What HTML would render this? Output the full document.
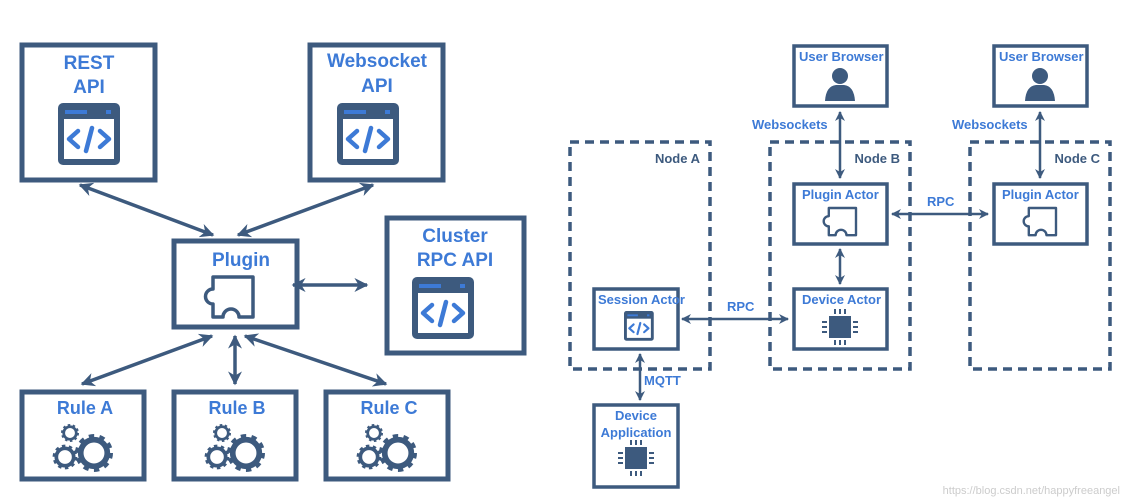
<!DOCTYPE html>
<html><head><meta charset="utf-8"><style>
body{margin:0;background:#fff}
svg{display:block}
.t{font-family:"Liberation Sans",sans-serif;font-weight:bold;fill:#3d7ad6}
.n{font-family:"Liberation Sans",sans-serif;font-weight:bold;fill:#3d5a7e}
</style></head><body>
<svg width="1126" height="501" viewBox="0 0 1126 501" xmlns="http://www.w3.org/2000/svg">
<defs>
<marker id="a" viewBox="0 0 10 10" refX="9" refY="5" markerWidth="4" markerHeight="4" orient="auto-start-reverse"><path d="M0,0 L10,5 L0,10 L3,5 Z" fill="#3d5a7e"/></marker>
<g id="code">
<rect x="0" y="0" width="62" height="62" rx="5" fill="#3d5a7e"/>
<rect x="6" y="16" width="50" height="40" fill="#fff"/>
<rect x="7" y="7" width="22" height="4" fill="#3d7ad6"/>
<rect x="48" y="7" width="5" height="4" fill="#3d7ad6"/>
<g fill="none" stroke="#3d7ad6" stroke-width="4.5" stroke-linecap="round" stroke-linejoin="round">
<path d="M20,28 L11,36 L20,44"/><path d="M42,28 L51,36 L42,44"/><path d="M34,25 L28,48"/></g>
</g>
<g id="puz"><path d="M10,0 H50 V40 H36 A8,8 0 0 0 20,40 H10 V27 A7.5,7.5 0 0 1 10,12 Z" fill="none" stroke="#3d5a7e" stroke-width="3.5" stroke-linejoin="round"/></g>
<g id="gear">
<circle r="14" fill="none" stroke="#3d5a7e" stroke-width="6"/>
<circle r="17.5" fill="none" stroke="#3d5a7e" stroke-width="5" stroke-dasharray="5.5 5.5"/>
</g>
<g id="gears">
<use href="#gear" transform="translate(32,23) scale(0.95)"/>
<use href="#gear" transform="translate(3,27) scale(0.62)"/>
<use href="#gear" transform="translate(8,3) scale(0.45)"/>
</g>
<g id="chip" fill="#3d5a7e">
<rect x="0" y="0" width="22" height="22"/>
<rect x="5" y="-7" width="2" height="5"/><rect x="10" y="-7" width="2" height="5"/><rect x="15" y="-7" width="2" height="5"/>
<rect x="5" y="24" width="2" height="5"/><rect x="10" y="24" width="2" height="5"/><rect x="15" y="24" width="2" height="5"/>
<rect x="-7" y="5" width="5" height="2"/><rect x="-7" y="10" width="5" height="2"/><rect x="-7" y="15" width="5" height="2"/>
<rect x="24" y="5" width="5" height="2"/><rect x="24" y="10" width="5" height="2"/><rect x="24" y="15" width="5" height="2"/>
</g>
<g id="user" fill="#3d5a7e"><circle cx="0" cy="0" r="8"/><path d="M-15,25 Q-14,10 -4,9 L4,9 Q14,10 15,25 Z"/></g>
</defs>

<g fill="none" stroke="#3d5a7e" stroke-width="5">
<rect x="22" y="45" width="133" height="135"/>
<rect x="310" y="45" width="133" height="135"/>
<rect x="174" y="241" width="123" height="86"/>
<rect x="387" y="218" width="137" height="135"/>
<rect x="22" y="392" width="122" height="87"/>
<rect x="174" y="392" width="122" height="87"/>
<rect x="326" y="392" width="122" height="87"/>
</g>
<text class="t" x="89" y="69" font-size="19" text-anchor="middle">REST</text>
<text class="t" x="89" y="93" font-size="19" text-anchor="middle">API</text>
<text class="t" x="377" y="67" font-size="19" text-anchor="middle">Websocket</text>
<text class="t" x="377" y="92" font-size="19" text-anchor="middle">API</text>
<text class="t" x="241" y="266" font-size="19" text-anchor="middle">Plugin</text>
<text class="t" x="455" y="242" font-size="19" text-anchor="middle">Cluster</text>
<text class="t" x="455" y="266" font-size="19" text-anchor="middle">RPC API</text>
<text class="t" x="85" y="414" font-size="18" text-anchor="middle">Rule A</text>
<text class="t" x="237" y="414" font-size="18" text-anchor="middle">Rule B</text>
<text class="t" x="389" y="414" font-size="18" text-anchor="middle">Rule C</text>
<use href="#code" x="58" y="103"/>
<use href="#code" x="337" y="103"/>
<use href="#code" x="412" y="277"/>
<use href="#puz" x="203" y="277"/>
<use href="#gears" transform="translate(62,430)"/>
<use href="#gears" transform="translate(214,430)"/>
<use href="#gears" transform="translate(366,430)"/>
<g stroke="#3d5a7e" stroke-width="3.5" marker-start="url(#a)" marker-end="url(#a)">
<line x1="80" y1="185" x2="213" y2="235"/>
<line x1="373" y1="185" x2="238" y2="235"/>
<line x1="293" y1="285" x2="367" y2="285"/>
<line x1="212" y1="336" x2="82" y2="384"/>
<line x1="235" y1="336" x2="235" y2="384"/>
<line x1="245" y1="336" x2="386" y2="384"/>
</g>

<g fill="none" stroke="#3d5a7e" stroke-width="3.5" stroke-dasharray="9 6">
<rect x="570" y="142" width="140" height="227"/>
<rect x="770" y="142" width="140" height="227"/>
<rect x="970" y="142" width="140" height="227"/>
</g>
<text class="n" x="700" y="163" font-size="13" text-anchor="end">Node A</text>
<text class="n" x="900" y="163" font-size="13" text-anchor="end">Node B</text>
<text class="n" x="1100" y="163" font-size="13" text-anchor="end">Node C</text>
<g fill="#fff" stroke="#3d5a7e" stroke-width="3.5">
<rect x="794" y="46" width="93" height="60"/>
<rect x="994" y="46" width="93" height="60"/>
<rect x="794" y="184" width="93" height="60"/>
<rect x="994" y="184" width="93" height="60"/>
<rect x="794" y="289" width="93" height="60"/>
<rect x="594" y="289" width="84" height="60"/>
<rect x="594" y="405" width="84" height="82"/>
</g>
<g class="t" font-size="13">
<text x="799" y="61">User Browser</text>
<text x="999" y="61">User Browser</text>
<text x="802" y="199">Plugin Actor</text>
<text x="1002" y="199">Plugin Actor</text>
<text x="802" y="304">Device Actor</text>
<text x="598" y="304">Session Actor</text>
<text x="636" y="420" text-anchor="middle">Device</text>
<text x="636" y="437" text-anchor="middle">Application</text>
<text x="752" y="129">Websockets</text>
<text x="952" y="129">Websockets</text>
<text x="927" y="206">RPC</text>
<text x="727" y="311">RPC</text>
<text x="644" y="385">MQTT</text>
</g>
<use href="#user" transform="translate(840,76)"/>
<use href="#user" transform="translate(1040,76)"/>
<use href="#puz" transform="translate(822,208) scale(0.68)"/>
<use href="#puz" transform="translate(1022,208) scale(0.68)"/>
<use href="#code" transform="translate(624,311) scale(0.48)"/>
<use href="#chip" x="829" y="316"/>
<use href="#chip" x="625" y="447"/>
<g stroke="#3d5a7e" stroke-width="2.5" marker-start="url(#a)" marker-end="url(#a)">
<line x1="840" y1="112" x2="840" y2="178"/>
<line x1="1040" y1="112" x2="1040" y2="178"/>
<line x1="840" y1="249" x2="840" y2="284"/>
<line x1="892" y1="214" x2="988" y2="214"/>
<line x1="682" y1="319" x2="788" y2="319"/>
<line x1="640" y1="354" x2="640" y2="400"/>
</g>
<text x="1120" y="494" font-family="Liberation Sans,sans-serif" font-size="11" fill="#ccc" text-anchor="end">https://blog.csdn.net/happyfreeangel</text>
</svg>
</body></html>
